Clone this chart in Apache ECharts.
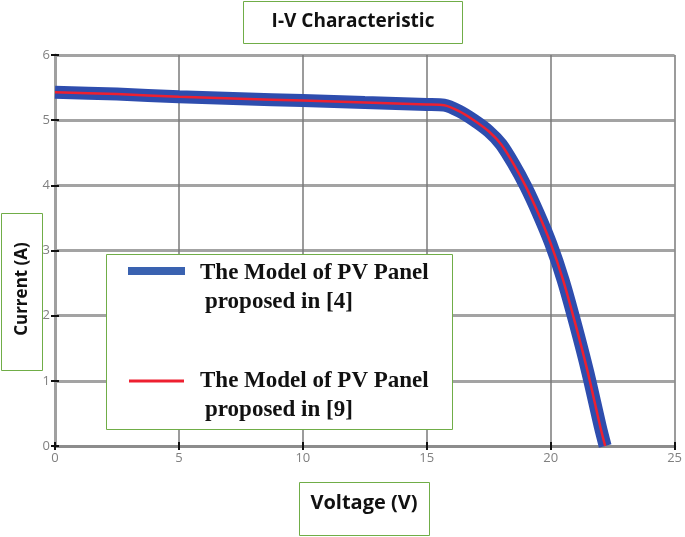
<!DOCTYPE html>
<html>
<head>
<meta charset="utf-8">
<script src="https://cdn.jsdelivr.net/npm/echarts@6/dist/echarts.min.js"></script>
<style>
  html, body { margin: 0; padding: 0; background: #fff; }
  #chart { width: 685px; height: 537px; }
</style>
</head>
<body>
<div id="chart"></div>
<script>
// I-V curve
const voltage = [0, 2.5, 5, 7.5, 10, 12.5, 15, 15.7, 16.3, 16.9, 17.5, 18.0, 18.5, 19.0, 19.5, 20.0, 20.5, 21.0, 21.5, 22.0, 22.2];
const current = [5.43, 5.40, 5.36, 5.33, 5.30, 5.27, 5.24, 5.23, 5.14, 5.0, 4.83, 4.63, 4.33, 3.98, 3.57, 3.11, 2.55, 1.87, 1.13, 0.30, 0.0];

const xTicks = [0, 5, 10, 15, 20, 25];
const yTicks = [0, 1, 2, 3, 4, 5, 6];

const seriesNames = ['The Model of PV Panel proposed in [4]', 'The Model of PV Panel proposed in [9]'];

const pts = voltage.map((v, i) => [v, current[i]]);

const green = '#70AD47';
const serif = '"Liberation Serif", "DejaVu Serif", serif';
const sans = '"Open Sans", "Noto Sans", sans-serif';

const chart = echarts.init(document.getElementById('chart'));

const tickLabel = { color: '#808080', fontSize: 13, fontFamily: sans };

chart.setOption({
    animation: false,
    grid: { left: 55, right: 8, top: 55, bottom: 91 },
    xAxis: [
        {
            type: 'value', min: xTicks[0], max: xTicks[xTicks.length - 1], interval: 5,
            axisLine: { lineStyle: { color: '#111', width: 2 } },
            axisTick: { inside: true, length: 4, lineStyle: { color: '#111', width: 2 } },
            axisLabel: Object.assign({ margin: 6 }, tickLabel),
            splitLine: { show: true, lineStyle: { color: '#7a7a7a', width: 1.5 } }
        },
        {
            type: 'value', position: 'top', min: 0, max: 25, interval: 5,
            axisLine: { show: true, lineStyle: { color: '#8c8c8c', width: 3 } },
            axisTick: { inside: true, length: 4, lineStyle: { color: '#111', width: 2 } },
            axisLabel: { show: false },
            splitLine: { show: false }
        }
    ],
    yAxis: [
        {
            type: 'value', min: yTicks[0], max: yTicks[yTicks.length - 1], interval: 1,
            axisLine: { show: true, lineStyle: { color: '#111', width: 2 } },
            axisTick: { show: true, inside: true, length: 4, lineStyle: { color: '#111', width: 2 } },
            axisLabel: Object.assign({ margin: 5 }, tickLabel),
            splitLine: { show: true, lineStyle: { color: '#a3a3a3', width: 3 } }
        },
        {
            type: 'value', position: 'right', min: 0, max: 6, interval: 1,
            axisLine: { show: true, lineStyle: { color: '#a0a0a0', width: 3 } },
            axisTick: { show: true, inside: true, length: 4, lineStyle: { color: '#111', width: 2 } },
            axisLabel: { show: false },
            splitLine: { show: false }
        }
    ],
    series: [
        {
            name: seriesNames[0], type: 'line', data: pts,
            smooth: 0.25, symbol: 'none',
            lineStyle: { color: '#2E4DAE', width: 13 }
        },
        {
            name: seriesNames[1], type: 'line', data: pts,
            smooth: 0.25, symbol: 'none',
            lineStyle: { color: '#EE2030', width: 2.5 }
        }
    ],
    graphic: [
        // title box
        { type: 'rect', shape: { x: 243.5, y: 1.5, width: 219, height: 42 },
          style: { fill: '#fff', stroke: green, lineWidth: 1 } },
        { type: 'text', x: 353, y: 22,
          style: { text: 'I-V Characteristic', font: 'bold 19px ' + sans, fill: '#111', align: 'center', verticalAlign: 'middle' } },
        // y axis name box
        { type: 'rect', shape: { x: 1.5, y: 213.5, width: 41, height: 157 },
          style: { fill: '#fff', stroke: green, lineWidth: 1 } },
        { type: 'text', x: 22, y: 289, rotation: Math.PI / 2,
          style: { text: 'Current (A)', font: 'bold 17px ' + sans, fill: '#111', align: 'center', verticalAlign: 'middle' } },
        // x axis name box
        { type: 'rect', shape: { x: 299.5, y: 482.5, width: 130, height: 53 },
          style: { fill: '#fff', stroke: green, lineWidth: 1 } },
        { type: 'text', x: 364, y: 503,
          style: { text: 'Voltage (V)', font: 'bold 20px ' + sans, fill: '#111', align: 'center', verticalAlign: 'middle' } },
        // legend box
        { type: 'rect', z: 10, shape: { x: 106.5, y: 254.5, width: 346, height: 175 },
          style: { fill: '#fff', stroke: green, lineWidth: 1 } },
        { type: 'line', z: 11, shape: { x1: 128, y1: 271, x2: 185, y2: 271 },
          style: { stroke: '#3A62B0', lineWidth: 8 } },
        { type: 'line', z: 11, shape: { x1: 129, y1: 381, x2: 184, y2: 381 },
          style: { stroke: '#EE2030', lineWidth: 3 } },
        { type: 'text', z: 11, x: 200, y: 273,
          style: { text: 'The Model of PV Panel', font: 'bold 23px ' + serif, fill: '#111', verticalAlign: 'middle' } },
        { type: 'text', z: 11, x: 205, y: 302,
          style: { text: 'proposed in [4]', font: 'bold 23px ' + serif, fill: '#111', verticalAlign: 'middle' } },
        { type: 'text', z: 11, x: 200, y: 381,
          style: { text: 'The Model of PV Panel', font: 'bold 23px ' + serif, fill: '#111', verticalAlign: 'middle' } },
        { type: 'text', z: 11, x: 205, y: 410,
          style: { text: 'proposed in [9]', font: 'bold 23px ' + serif, fill: '#111', verticalAlign: 'middle' } }
    ]
});
</script>
</body>
</html>
